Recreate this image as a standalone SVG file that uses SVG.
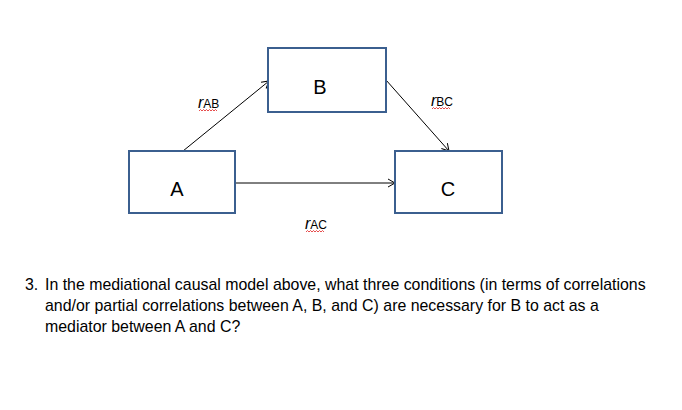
<svg xmlns="http://www.w3.org/2000/svg" width="682" height="410" viewBox="0 0 682 410">
<style>
.box{fill:#fff;stroke:#3B5F8F;stroke-width:2}
.lbl{font-family:"Liberation Sans",Arial,sans-serif;font-size:20px;fill:#000;text-anchor:middle}
.r{font-family:"Liberation Sans",Arial,sans-serif;font-size:14px;fill:#000}
.sq{fill:none;stroke:#E02020;stroke-width:0.8}
.ln{stroke:#000;stroke-width:1;fill:none;marker-end:url(#ah)}
.q{font-family:"Liberation Sans",Arial,sans-serif;font-size:15.9px;fill:#000}
</style>
<defs>
<marker id="ah" markerWidth="10" markerHeight="10" refX="8" refY="5" orient="auto" markerUnits="userSpaceOnUse">
<path d="M1,1 L8,5 L1,9" fill="none" stroke="#000" stroke-width="1"/>
</marker>
</defs>
<rect width="682" height="410" fill="#fff"/>
<g id="connectors">
<line class="ln" x1="183" y1="151" x2="269" y2="81"/>
<line class="ln" x1="386" y1="80" x2="449" y2="151"/>
<line class="ln" x1="235" y1="183" x2="395" y2="183"/>
</g>
<g id="A"><rect class="box" x="129" y="151" width="106" height="62"/><text class="lbl" x="177" y="196">A</text></g>
<g id="B"><rect class="box" x="268" y="48" width="118" height="64"/><text class="lbl" x="320" y="94">B</text></g>
<g id="C"><rect class="box" x="395" y="151" width="107" height="62"/><text class="lbl" x="448" y="196">C</text></g>
<g id="labels">
<text class="r" x="198" y="108"><tspan font-style="italic" font-size="16">r</tspan><tspan font-size="12">AB</tspan></text>
<path class="sq" d="M199,111 l1.5,-1.5 l1.5,1.5 l1.5,-1.5 l1.5,1.5 l1.5,-1.5 l1.5,1.5 l1.5,-1.5 l1.5,1.5 l1.5,-1.5 l1.5,1.5 l1.5,-1.5 l1.5,1.5"/>
<text class="r" x="431" y="106"><tspan font-style="italic" font-size="16">r</tspan><tspan font-size="12">BC</tspan></text>
<path class="sq" d="M432,109 l1.5,-1.5 l1.5,1.5 l1.5,-1.5 l1.5,1.5 l1.5,-1.5 l1.5,1.5 l1.5,-1.5 l1.5,1.5 l1.5,-1.5 l1.5,1.5 l1.5,-1.5 l1.5,1.5"/>
<text class="r" x="305" y="229"><tspan font-style="italic" font-size="16">r</tspan><tspan font-size="12">AC</tspan></text>
<path class="sq" d="M306,232 l1.5,-1.5 l1.5,1.5 l1.5,-1.5 l1.5,1.5 l1.5,-1.5 l1.5,1.5 l1.5,-1.5 l1.5,1.5 l1.5,-1.5 l1.5,1.5 l1.5,-1.5 l1.5,1.5"/>
</g>
<g id="question">
<text class="q" x="25" y="290">3.</text>
<text class="q" x="45" y="290">In the mediational causal model above, what three conditions (in terms of correlations</text>
<text class="q" x="45" y="311">and/or partial correlations between A, B, and C) are necessary for B to act as a</text>
<text class="q" x="45" y="332">mediator between A and C?</text>
</g>
</svg>
